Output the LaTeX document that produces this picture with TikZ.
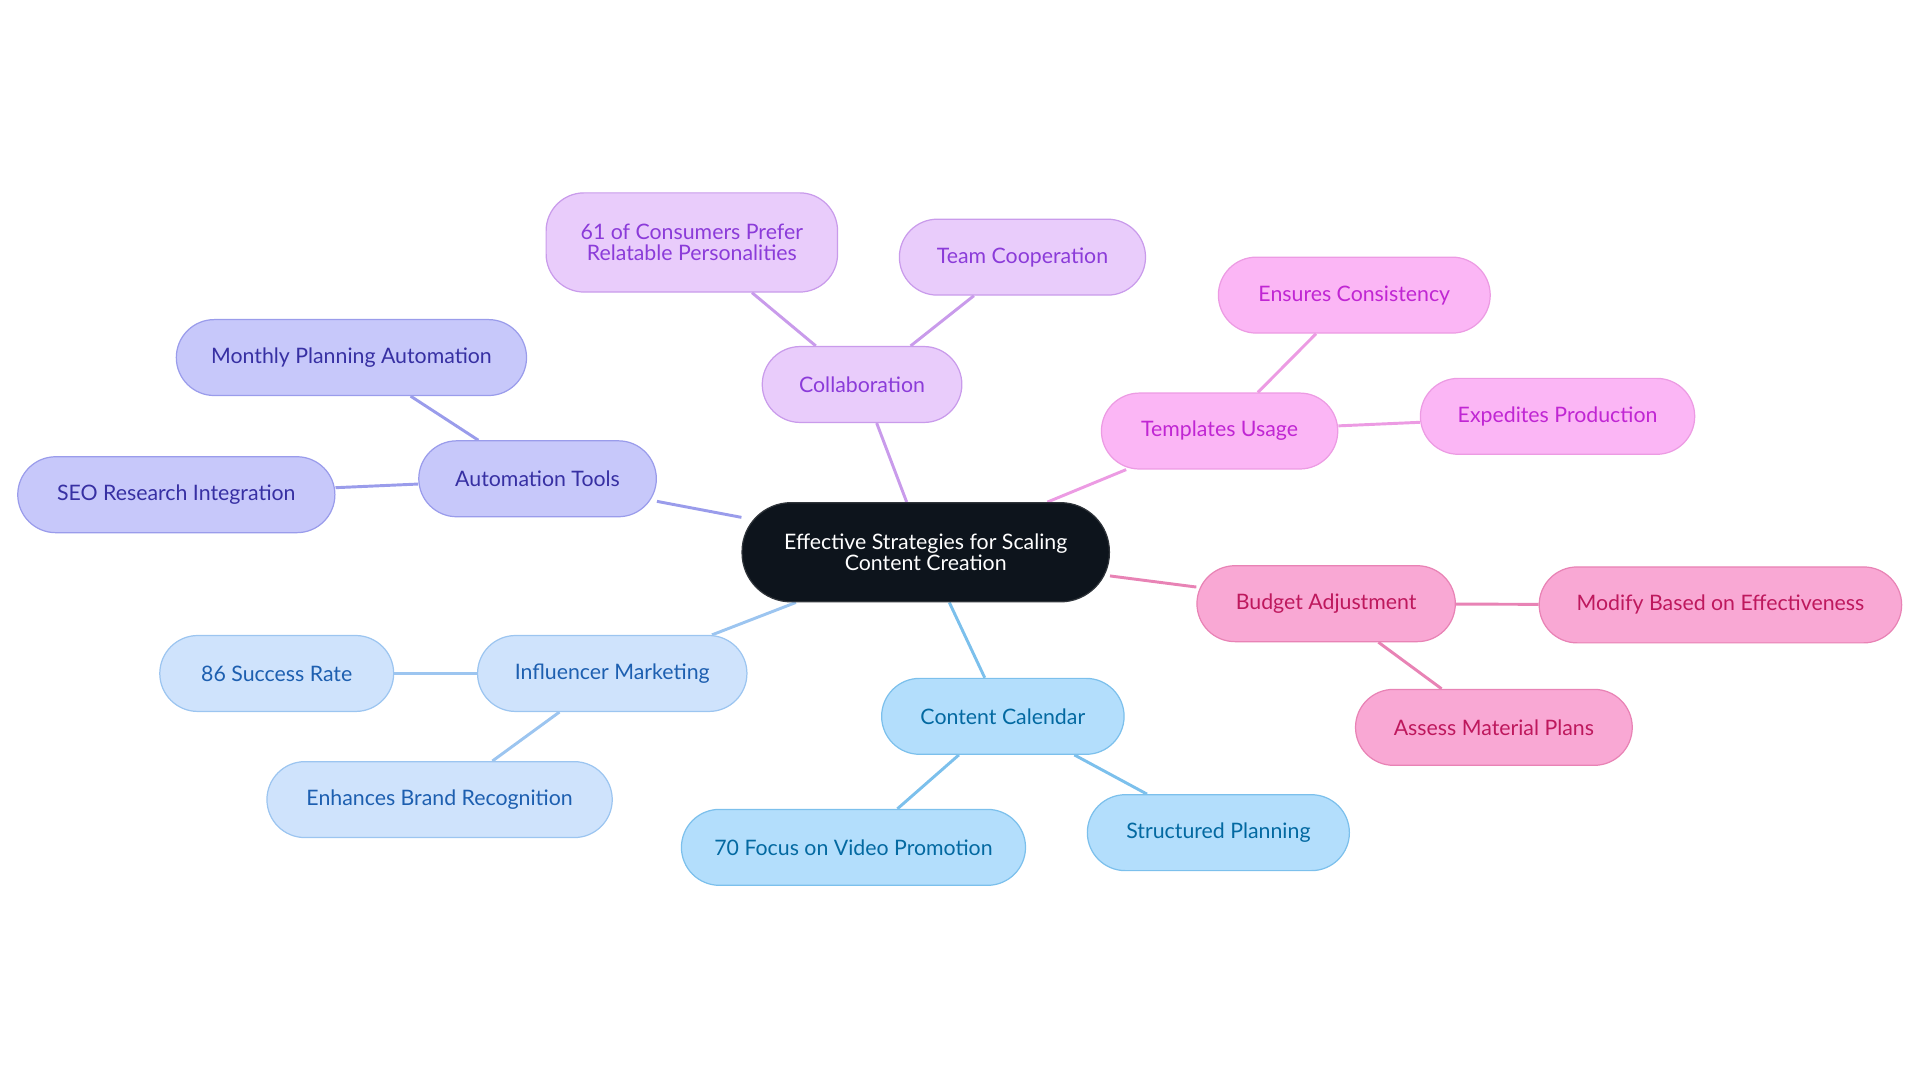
\documentclass[tikz,border=0pt]{standalone}
\usepackage{fontspec}
\setmainfont{Lato}
\usetikzlibrary{backgrounds}
\definecolor{rootfill}{HTML}{0D141C}
\definecolor{autofill}{HTML}{C7C8FA}\definecolor{autoline}{HTML}{9A9CEB}\definecolor{autotext}{HTML}{3730A3}
\definecolor{collfill}{HTML}{E9CCFB}\definecolor{collline}{HTML}{C99BEB}\definecolor{colltext}{HTML}{8B3BD9}
\definecolor{tempfill}{HTML}{FBB6F5}\definecolor{templine}{HTML}{EC9BE3}\definecolor{temptext}{HTML}{C026D3}
\definecolor{budgfill}{HTML}{F9A8D4}\definecolor{budgline}{HTML}{E883B5}\definecolor{budgtext}{HTML}{BE185D}
\definecolor{contfill}{HTML}{B3DEFC}\definecolor{contline}{HTML}{7CC0EC}\definecolor{conttext}{HTML}{0369A1}
\definecolor{inflfill}{HTML}{CFE3FC}\definecolor{inflline}{HTML}{9CC5F0}\definecolor{infltext}{HTML}{1D5FB0}
\begin{document}
\begin{tikzpicture}[x=0.5pt,y=-0.5pt,font=\fontsize{8.7}{8.7}\selectfont]
% node styles
\tikzset{
  leaf/.style={draw, line width=0.5pt, rounded corners=15.5pt, minimum height=31pt,
    align=center, inner sep=0pt},
  root/.style={leaf, fill=rootfill, draw=rootfill!70!gray, text=white, rounded corners=20pt},
  auto/.style={leaf, fill=autofill, draw=autoline, text=autotext},
  coll/.style={leaf, fill=collfill, draw=collline, text=colltext},
  temp/.style={leaf, fill=tempfill, draw=templine, text=temptext},
  budg/.style={leaf, fill=budgfill, draw=budgline, text=budgtext},
  cont/.style={leaf, fill=contfill, draw=contline, text=conttext},
  infl/.style={leaf, fill=inflfill, draw=inflline, text=infltext},
  link/.style={line width=1.2pt}
}
\useasboundingbox (0,0) rectangle (1568,884);
% root
\node[root, minimum width=150pt, minimum height=40.5pt] (strategies) at (756,451)
  {Effective Strategies for Scaling\\Content Creation};
% automation
\node[auto, minimum width=97pt] (automation) at (439,391) {Automation Tools};
\node[auto, minimum width=143pt] (monthly) at (287,292) {Monthly Planning Automation};
\node[auto, minimum width=129.5pt] (seo) at (144,404) {SEO Research Integration};
% collaboration
\node[coll, minimum width=81.5pt] (collab) at (704,314) {Collaboration};
\node[coll, minimum width=119pt, minimum height=40.5pt] (consumers) at (565,198)
  {61 of Consumers Prefer\\Relatable Personalities};
\node[coll, minimum width=100.5pt] (team) at (835,210) {Team Cooperation};
% templates
\node[temp, minimum width=96.5pt] (templates) at (996,352) {Templates Usage};
\node[temp, minimum width=111pt] (consistency) at (1106,241) {Ensures Consistency};
\node[temp, minimum width=112pt] (expedites) at (1272,340) {Expedites Production};
% budget
\node[budg, minimum width=105.5pt] (budget) at (1083,493) {Budget Adjustment};
\node[budg, minimum width=148pt] (modify) at (1405,494) {Modify Based on Effectiveness};
\node[budg, minimum width=113pt] (assess) at (1220,594) {Assess Material Plans};
% calendar
\node[cont, minimum width=99pt] (calendar) at (819,585) {Content Calendar};
\node[cont, minimum width=140.5pt] (video) at (697,692) {70 Focus on Video Promotion};
\node[cont, minimum width=107pt] (structured) at (995,680) {Structured Planning};
% influencer
\node[infl, minimum width=110pt] (influencer) at (500,550) {Influencer Marketing};
\node[infl, minimum width=95.5pt] (success) at (226,550) {86 Success Rate};
\node[infl, minimum width=141pt] (brand) at (359,653) {Enhances Brand Recognition};
% links
\begin{scope}[on background layer]
\draw[link, autoline] (strategies) -- (automation);
\draw[link, autoline] (automation) -- (monthly);
\draw[link, autoline] (automation) -- (seo);
\draw[link, collline] (strategies) -- (collab);
\draw[link, collline] (collab) -- (consumers);
\draw[link, collline] (collab) -- (team);
\draw[link, templine] (strategies) -- (templates);
\draw[link, templine] (templates) -- (consistency);
\draw[link, templine] (templates) -- (expedites);
\draw[link, budgline] (strategies) -- (budget);
\draw[link, budgline] (budget) -- (modify);
\draw[link, budgline] (budget) -- (assess);
\draw[link, contline] (strategies) -- (calendar);
\draw[link, contline] (calendar) -- (video);
\draw[link, contline] (calendar) -- (structured);
\draw[link, inflline] (strategies) -- (influencer);
\draw[link, inflline] (influencer) -- (success);
\draw[link, inflline] (influencer) -- (brand);
\end{scope}
\end{tikzpicture}
\end{document}
